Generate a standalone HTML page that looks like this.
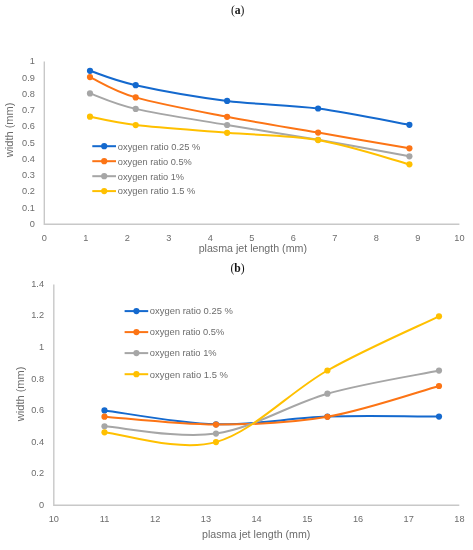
<!DOCTYPE html><html><head><meta charset="utf-8"><title>chart</title><style>
html,body{margin:0;padding:0;background:#fff}svg{display:block}
.t{font-family:"Liberation Sans",sans-serif;fill:#6C6C6C}
.s{font-family:"Liberation Serif",serif;fill:#111}
</style></head><body>
<svg width="473" height="550" viewBox="0 0 473 550">
<rect width="473" height="550" fill="#fff"/>
<text class="s" x="237.7" y="14.0" font-size="11.6" text-anchor="middle">(<tspan font-weight="bold">a</tspan>)</text>
<text class="s" x="237.6" y="272.0" font-size="11.6" text-anchor="middle">(<tspan font-weight="bold">b</tspan>)</text>
<path d="M44.3 61.5V224.2H459.4" fill="none" stroke="#C8C8C8" stroke-width="1.4"/>
<text class="t" x="34.9" y="227.0" font-size="9.2" text-anchor="end">0</text>
<text class="t" x="34.9" y="210.7" font-size="9.2" text-anchor="end">0.1</text>
<text class="t" x="34.9" y="194.4" font-size="9.2" text-anchor="end">0.2</text>
<text class="t" x="34.9" y="178.2" font-size="9.2" text-anchor="end">0.3</text>
<text class="t" x="34.9" y="161.9" font-size="9.2" text-anchor="end">0.4</text>
<text class="t" x="34.9" y="145.6" font-size="9.2" text-anchor="end">0.5</text>
<text class="t" x="34.9" y="129.3" font-size="9.2" text-anchor="end">0.6</text>
<text class="t" x="34.9" y="113.0" font-size="9.2" text-anchor="end">0.7</text>
<text class="t" x="34.9" y="96.8" font-size="9.2" text-anchor="end">0.8</text>
<text class="t" x="34.9" y="80.5" font-size="9.2" text-anchor="end">0.9</text>
<text class="t" x="34.9" y="64.2" font-size="9.2" text-anchor="end">1</text>
<text class="t" x="44.4" y="241.0" font-size="9.2" text-anchor="middle">0</text>
<text class="t" x="85.9" y="241.0" font-size="9.2" text-anchor="middle">1</text>
<text class="t" x="127.4" y="241.0" font-size="9.2" text-anchor="middle">2</text>
<text class="t" x="168.9" y="241.0" font-size="9.2" text-anchor="middle">3</text>
<text class="t" x="210.4" y="241.0" font-size="9.2" text-anchor="middle">4</text>
<text class="t" x="251.9" y="241.0" font-size="9.2" text-anchor="middle">5</text>
<text class="t" x="293.4" y="241.0" font-size="9.2" text-anchor="middle">6</text>
<text class="t" x="334.9" y="241.0" font-size="9.2" text-anchor="middle">7</text>
<text class="t" x="376.4" y="241.0" font-size="9.2" text-anchor="middle">8</text>
<text class="t" x="417.9" y="241.0" font-size="9.2" text-anchor="middle">9</text>
<text class="t" x="459.4" y="241.0" font-size="9.2" text-anchor="middle">10</text>
<text class="t" x="252.8" y="252.4" font-size="10.3" text-anchor="middle" textLength="108.3" lengthAdjust="spacingAndGlyphs">plasma jet length (mm)</text>
<text class="t" transform="translate(12.9,129.9) rotate(-90)" font-size="10.3" text-anchor="middle" textLength="54.5" lengthAdjust="spacingAndGlyphs">width (mm)</text>
<path d="M53.8 284.5V505.3H459.3" fill="none" stroke="#C8C8C8" stroke-width="1.4"/>
<text class="t" x="44.0" y="508.0" font-size="9.2" text-anchor="end">0</text>
<text class="t" x="44.0" y="476.4" font-size="9.2" text-anchor="end">0.2</text>
<text class="t" x="44.0" y="444.8" font-size="9.2" text-anchor="end">0.4</text>
<text class="t" x="44.0" y="413.2" font-size="9.2" text-anchor="end">0.6</text>
<text class="t" x="44.0" y="381.6" font-size="9.2" text-anchor="end">0.8</text>
<text class="t" x="44.0" y="350.0" font-size="9.2" text-anchor="end">1</text>
<text class="t" x="44.0" y="318.4" font-size="9.2" text-anchor="end">1.2</text>
<text class="t" x="44.0" y="286.8" font-size="9.2" text-anchor="end">1.4</text>
<text class="t" x="53.8" y="522.0" font-size="9.2" text-anchor="middle">10</text>
<text class="t" x="104.5" y="522.0" font-size="9.2" text-anchor="middle">11</text>
<text class="t" x="155.2" y="522.0" font-size="9.2" text-anchor="middle">12</text>
<text class="t" x="205.9" y="522.0" font-size="9.2" text-anchor="middle">13</text>
<text class="t" x="256.6" y="522.0" font-size="9.2" text-anchor="middle">14</text>
<text class="t" x="307.3" y="522.0" font-size="9.2" text-anchor="middle">15</text>
<text class="t" x="358.0" y="522.0" font-size="9.2" text-anchor="middle">16</text>
<text class="t" x="408.7" y="522.0" font-size="9.2" text-anchor="middle">17</text>
<text class="t" x="459.4" y="522.0" font-size="9.2" text-anchor="middle">18</text>
<text class="t" x="256.2" y="538.4" font-size="10.3" text-anchor="middle" textLength="108.3" lengthAdjust="spacingAndGlyphs">plasma jet length (mm)</text>
<text class="t" transform="translate(24.3,393.9) rotate(-90)" font-size="10.3" text-anchor="middle" textLength="54.5" lengthAdjust="spacingAndGlyphs">width (mm)</text>
<path d="M90.00 70.80 C97.62 73.20 112.85 80.18 135.70 85.20 C158.55 90.22 196.70 97.02 227.10 100.90 C257.50 104.78 287.72 104.52 318.10 108.50 C348.48 112.48 394.18 122.08 409.40 124.80" fill="none" stroke="#1469CE" stroke-width="2.0" stroke-linecap="round" stroke-linejoin="round"/>
<circle cx="90.0" cy="70.8" r="3.1" fill="#1469CE"/>
<circle cx="135.7" cy="85.2" r="3.1" fill="#1469CE"/>
<circle cx="227.1" cy="100.9" r="3.1" fill="#1469CE"/>
<circle cx="318.1" cy="108.5" r="3.1" fill="#1469CE"/>
<circle cx="409.4" cy="124.8" r="3.1" fill="#1469CE"/>
<path d="M90.00 77.10 C97.62 80.48 112.85 90.78 135.70 97.40 C158.55 104.02 196.70 110.93 227.10 116.80 C257.50 122.67 287.72 127.35 318.10 132.60 C348.48 137.85 394.18 145.68 409.40 148.30" fill="none" stroke="#FC7415" stroke-width="2.0" stroke-linecap="round" stroke-linejoin="round"/>
<circle cx="90.0" cy="77.1" r="3.1" fill="#FC7415"/>
<circle cx="135.7" cy="97.4" r="3.1" fill="#FC7415"/>
<circle cx="227.1" cy="116.8" r="3.1" fill="#FC7415"/>
<circle cx="318.1" cy="132.6" r="3.1" fill="#FC7415"/>
<circle cx="409.4" cy="148.3" r="3.1" fill="#FC7415"/>
<path d="M90.00 93.40 C97.62 95.98 112.85 103.63 135.70 108.90 C158.55 114.17 196.70 119.85 227.10 125.00 C257.50 130.15 287.72 134.58 318.10 139.80 C348.48 145.02 394.18 153.55 409.40 156.30" fill="none" stroke="#A6A6A6" stroke-width="2.0" stroke-linecap="round" stroke-linejoin="round"/>
<circle cx="90.0" cy="93.4" r="3.1" fill="#A6A6A6"/>
<circle cx="135.7" cy="108.9" r="3.1" fill="#A6A6A6"/>
<circle cx="227.1" cy="125.0" r="3.1" fill="#A6A6A6"/>
<circle cx="318.1" cy="139.8" r="3.1" fill="#A6A6A6"/>
<circle cx="409.4" cy="156.3" r="3.1" fill="#A6A6A6"/>
<path d="M90.00 116.70 C97.62 118.10 112.85 122.42 135.70 125.10 C158.55 127.78 196.70 130.30 227.10 132.80 C257.50 135.30 287.72 134.85 318.10 140.10 C348.48 145.35 394.18 160.27 409.40 164.30" fill="none" stroke="#FFC000" stroke-width="2.0" stroke-linecap="round" stroke-linejoin="round"/>
<circle cx="90.0" cy="116.7" r="3.1" fill="#FFC000"/>
<circle cx="135.7" cy="125.1" r="3.1" fill="#FFC000"/>
<circle cx="227.1" cy="132.8" r="3.1" fill="#FFC000"/>
<circle cx="318.1" cy="140.1" r="3.1" fill="#FFC000"/>
<circle cx="409.4" cy="164.3" r="3.1" fill="#FFC000"/>
<path d="M104.50 410.40 C123.08 412.72 178.85 423.27 216.00 424.30 C253.15 425.33 290.23 417.88 327.40 416.60 C364.57 415.32 420.40 416.60 439.00 416.60" fill="none" stroke="#1469CE" stroke-width="2.0" stroke-linecap="round" stroke-linejoin="round"/>
<circle cx="104.5" cy="410.4" r="3.1" fill="#1469CE"/>
<circle cx="216.0" cy="424.3" r="3.1" fill="#1469CE"/>
<circle cx="327.4" cy="416.6" r="3.1" fill="#1469CE"/>
<circle cx="439.0" cy="416.6" r="3.1" fill="#1469CE"/>
<path d="M104.50 416.70 C123.08 418.02 178.85 424.58 216.00 424.60 C253.15 424.62 290.23 423.23 327.40 416.80 C364.57 410.37 420.40 391.13 439.00 386.00" fill="none" stroke="#FC7415" stroke-width="2.0" stroke-linecap="round" stroke-linejoin="round"/>
<circle cx="104.5" cy="416.7" r="3.1" fill="#FC7415"/>
<circle cx="216.0" cy="424.6" r="3.1" fill="#FC7415"/>
<circle cx="327.4" cy="416.8" r="3.1" fill="#FC7415"/>
<circle cx="439.0" cy="386.0" r="3.1" fill="#FC7415"/>
<path d="M104.50 426.30 C123.08 427.52 178.85 439.03 216.00 433.60 C253.15 428.17 290.23 404.20 327.40 393.70 C364.57 383.20 420.40 374.45 439.00 370.60" fill="none" stroke="#A6A6A6" stroke-width="2.0" stroke-linecap="round" stroke-linejoin="round"/>
<circle cx="104.5" cy="426.3" r="3.1" fill="#A6A6A6"/>
<circle cx="216.0" cy="433.6" r="3.1" fill="#A6A6A6"/>
<circle cx="327.4" cy="393.7" r="3.1" fill="#A6A6A6"/>
<circle cx="439.0" cy="370.6" r="3.1" fill="#A6A6A6"/>
<path d="M104.50 432.30 C123.08 433.93 178.85 452.40 216.00 442.10 C253.15 431.80 290.23 391.47 327.40 370.50 C364.57 349.53 420.40 325.33 439.00 316.30" fill="none" stroke="#FFC000" stroke-width="2.0" stroke-linecap="round" stroke-linejoin="round"/>
<circle cx="104.5" cy="432.3" r="3.1" fill="#FFC000"/>
<circle cx="216.0" cy="442.1" r="3.1" fill="#FFC000"/>
<circle cx="327.4" cy="370.5" r="3.1" fill="#FFC000"/>
<circle cx="439.0" cy="316.3" r="3.1" fill="#FFC000"/>
<path d="M92.3 146.2H116.0" stroke="#1469CE" stroke-width="2.0"/>
<circle cx="104.2" cy="146.2" r="3.1" fill="#1469CE"/>
<text class="t" x="117.8" y="149.5" font-size="9.2" text-anchor="start" textLength="82.6" lengthAdjust="spacingAndGlyphs">oxygen ratio 0.25 %</text>
<path d="M92.3 161.2H116.0" stroke="#FC7415" stroke-width="2.0"/>
<circle cx="104.2" cy="161.2" r="3.1" fill="#FC7415"/>
<text class="t" x="117.8" y="164.5" font-size="9.2" text-anchor="start" textLength="74.0" lengthAdjust="spacingAndGlyphs">oxygen ratio 0.5%</text>
<path d="M92.3 176.2H116.0" stroke="#A6A6A6" stroke-width="2.0"/>
<circle cx="104.2" cy="176.2" r="3.1" fill="#A6A6A6"/>
<text class="t" x="117.8" y="179.5" font-size="9.2" text-anchor="start" textLength="66.3" lengthAdjust="spacingAndGlyphs">oxygen ratio 1%</text>
<path d="M92.3 191.1H116.0" stroke="#FFC000" stroke-width="2.0"/>
<circle cx="104.2" cy="191.1" r="3.1" fill="#FFC000"/>
<text class="t" x="117.8" y="194.4" font-size="9.2" text-anchor="start" textLength="77.6" lengthAdjust="spacingAndGlyphs">oxygen ratio 1.5 %</text>
<path d="M124.6 311.1H148.2" stroke="#1469CE" stroke-width="2.0"/>
<circle cx="136.4" cy="311.1" r="3.1" fill="#1469CE"/>
<text class="t" x="149.8" y="314.4" font-size="9.2" text-anchor="start" textLength="83.1" lengthAdjust="spacingAndGlyphs">oxygen ratio 0.25 %</text>
<path d="M124.6 332.1H148.2" stroke="#FC7415" stroke-width="2.0"/>
<circle cx="136.4" cy="332.1" r="3.1" fill="#FC7415"/>
<text class="t" x="149.8" y="335.4" font-size="9.2" text-anchor="start" textLength="74.5" lengthAdjust="spacingAndGlyphs">oxygen ratio 0.5%</text>
<path d="M124.6 353.1H148.2" stroke="#A6A6A6" stroke-width="2.0"/>
<circle cx="136.4" cy="353.1" r="3.1" fill="#A6A6A6"/>
<text class="t" x="149.8" y="356.4" font-size="9.2" text-anchor="start" textLength="66.8" lengthAdjust="spacingAndGlyphs">oxygen ratio 1%</text>
<path d="M124.6 374.2H148.2" stroke="#FFC000" stroke-width="2.0"/>
<circle cx="136.4" cy="374.2" r="3.1" fill="#FFC000"/>
<text class="t" x="149.8" y="377.5" font-size="9.2" text-anchor="start" textLength="78.1" lengthAdjust="spacingAndGlyphs">oxygen ratio 1.5 %</text>
</svg></body></html>
